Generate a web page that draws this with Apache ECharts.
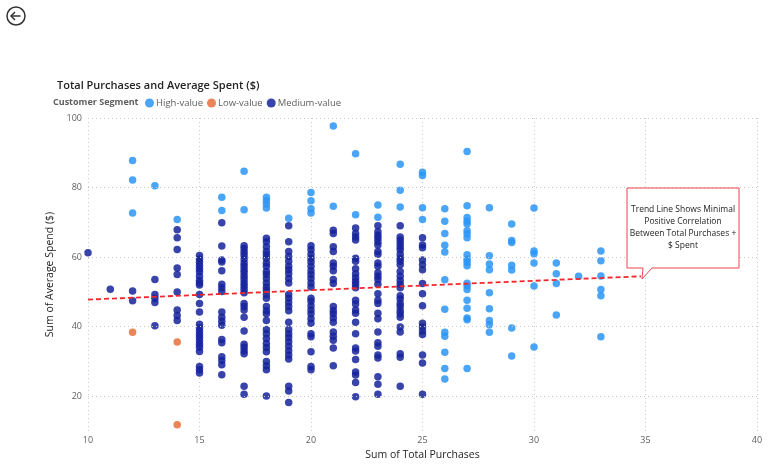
<!DOCTYPE html>
<html>
<head>
<meta charset="utf-8">
<script src="https://cdn.jsdelivr.net/npm/echarts@6/dist/echarts.min.js"></script>
<style>html,body{margin:0;padding:0;background:#fff}#chart{width:768px;height:466px}</style>
</head>
<body>
<div id="chart"></div>
<script>
// values: [total purchases, average spend]
const highValue = [
    [12, 87.8], [12, 82.2], [12, 72.7], [13, 80.5], [14, 70.8],
    [16, 77.2], [16, 73.4], [17, 84.7], [17, 73.6],
    [18, 77.2], [18, 76.2], [18, 75.3], [18, 74.1], [19, 71.2],
    [20, 78.6], [20, 76.2], [20, 73.9], [20, 72.7],
    [21, 97.7], [21, 74.6], [22, 89.7], [22, 72.2], [23, 75.0], [23, 71.5],
    [24, 86.7], [24, 79.2], [24, 74.4], [25, 84.4], [25, 83.5], [25, 74.2], [25, 70.8],
    [26, 73.9], [26, 70.3], [26, 66.8], [26, 63.4], [26, 61.5], [26, 53.5], [26, 45.0], [26, 38.4], [26, 37.3], [26, 32.7], [26, 28.0], [26, 25.0],
    [27, 90.4], [27, 74.8], [27, 71.4], [27, 70.3], [27, 69.5], [27, 67.6], [27, 66.7], [27, 65.6], [27, 60.7], [27, 59.4], [27, 58.5], [27, 57.5], [27, 52.5], [27, 51.7], [27, 50.7], [27, 47.6], [27, 45.3], [27, 42.5], [27, 42.0], [27, 28.0],
    [28, 74.2], [28, 60.4], [28, 58.0], [28, 56.4], [28, 49.8], [28, 45.2], [28, 41.8], [28, 40.6], [28, 38.4],
    [29, 69.5], [29, 64.8], [29, 64.2], [29, 57.7], [29, 56.3], [29, 39.6], [29, 31.6],
    [30, 74.1], [30, 61.8], [30, 61.0], [30, 58.3], [30, 51.7], [30, 34.2],
    [31, 58.3], [31, 55.2], [31, 52.4], [31, 43.4], [32, 54.5],
    [33, 61.8], [33, 59.0], [33, 54.6], [33, 50.7], [33, 48.9], [33, 37.1]
];
const lowValue = [[12, 38.4], [14, 35.6], [14, 11.8]];
const mediumCols = {
    10: [61.3],
    11: [50.8],
    12: [50.3, 47.5],
    13: [53.6, 49.3, 48.2, 47.0, 40.3],
    14: [67.9, 65.6, 62.2, 56.9, 55.0, 50.0, 44.8, 43.2, 41.8],
    15: [60.5, 59.5, 58.6, 57.6, 56.7, 55.8, 54.5, 53.3, 52.6, 52.0, 49.3, 46.7, 44.2, 40.7, 39.7, 38.8, 37.8, 36.9, 35.9, 35.0, 34.1, 32.9, 28.6, 27.6, 26.7],
    16: [69.9, 63.2, 59.2, 58.6, 56.1, 52.2, 51.2, 50.1, 44.2, 42.7, 41.6, 40.4, 36.3, 35.4, 31.4, 30.3, 29.1, 26.2],
    17: [63.3, 62.4, 61.4, 60.5, 59.5, 58.3, 57.4, 56.4, 55.5, 54.5, 53.6, 52.6, 51.7, 50.8, 49.8, 46.7, 45.8, 44.8, 42.7, 38.8, 35.0, 34.1, 33.1, 32.2, 22.9, 20.6],
    18: [65.4, 64.4, 63.0, 61.6, 60.7, 59.7, 58.3, 57.4, 55.9, 55.0, 53.9, 52.6, 51.4, 50.5, 49.3, 48.2, 45.8, 44.6, 43.7, 41.8, 39.2, 38.0, 36.6, 35.2, 34.0, 32.8, 30.0, 28.8, 27.6, 20.1],
    19: [69.0, 64.4, 61.6, 60.2, 58.8, 57.4, 56.4, 55.2, 53.9, 52.6, 49.3, 48.2, 47.0, 45.8, 44.6, 41.3, 39.2, 38.0, 36.9, 35.7, 34.4, 33.1, 31.9, 30.7, 22.9, 21.5, 18.2],
    20: [63.3, 62.1, 60.8, 59.7, 58.6, 57.4, 56.1, 55.0, 53.9, 52.6, 51.4, 48.2, 47.3, 46.0, 44.8, 43.7, 42.3, 41.0, 38.0, 37.1, 32.8, 28.6, 27.6],
    21: [67.7, 66.8, 63.0, 61.6, 58.3, 57.4, 56.1, 53.6, 52.4, 45.8, 44.6, 43.7, 42.5, 41.3, 38.5, 37.3, 36.1, 33.9, 28.8],
    22: [68.4, 66.8, 65.8, 64.9, 59.7, 58.8, 56.7, 55.2, 54.1, 53.1, 52.2, 51.2, 47.6, 46.5, 44.8, 43.9, 41.3, 38.0, 33.9, 33.0, 30.6, 27.0, 26.1, 24.0, 19.9],
    23: [69.0, 67.3, 66.3, 65.4, 64.4, 63.5, 61.6, 60.8, 58.3, 57.4, 55.5, 54.5, 53.6, 52.2, 49.5, 47.6, 46.7, 43.9, 42.3, 38.5, 35.4, 34.4, 31.9, 31.0, 25.6, 23.5, 20.6],
    24: [69.0, 65.8, 64.9, 64.0, 63.0, 62.1, 60.8, 59.7, 58.8, 57.8, 55.9, 54.5, 53.3, 52.2, 51.2, 48.9, 48.0, 46.7, 45.8, 44.6, 43.7, 42.7, 39.9, 38.5, 32.2, 31.2, 22.9],
    25: [65.6, 63.5, 62.7, 59.2, 57.8, 56.4, 52.4, 49.5, 46.0, 41.0, 39.9, 38.8, 37.8, 31.9, 29.6, 20.6]
};
const trendLine = [[10, 47.8], [34.8, 54.5]];
const yGridValues = [20, 40, 60, 80, 100];

const mediumValue = [];
Object.keys(mediumCols).forEach(x => {
    mediumCols[x].forEach(y => mediumValue.push([Number(x), y]));
});

const highColor = '#2b95f6';
const lowColor = '#e8703a';
const mediumColor = '#16239c';

function dotSeries(name, data, color) {
    return {
        name: name,
        type: 'scatter',
        data: data,
        symbolSize: 7.5,
        itemStyle: { color: color, opacity: 0.85 },
        z: 3
    };
}

const chart = echarts.init(document.getElementById('chart'));
chart.setOption({
    animation: false,
    title: {
        text: 'Total Purchases and Average Spent ($)',
        left: 52, top: 75,
        textStyle: { fontFamily: 'Open Sans', fontSize: 11, fontWeight: 600, color: '#252423' }
    },
    legend: {
        left: 140, top: 93,
        icon: 'circle', itemWidth: 9, itemHeight: 9, itemGap: 4,
        textStyle: { fontFamily: 'Open Sans', fontSize: 9.5, color: '#605e5c', padding: [0, 0, 0, -3] },
        data: ['High-value', 'Low-value', 'Medium-value']
    },
    grid: { left: 88, right: 11, top: 118, bottom: 31 },
    xAxis: {
        type: 'value', min: 10, max: 40, interval: 5,
        name: 'Sum of Total Purchases', nameLocation: 'middle', nameGap: 16,
        nameTextStyle: { fontFamily: 'Open Sans', fontSize: 10.5, color: '#252423' },
        axisLine: { show: false }, axisTick: { show: false },
        axisLabel: { fontFamily: 'Open Sans', fontSize: 9, color: '#605e5c', margin: 5 },
        splitLine: { lineStyle: { type: [1, 3], color: '#c8c8c8' } }
    },
    yAxis: {
        type: 'value', min: 10, max: 100, interval: 10,
        name: 'Sum of Average Spend ($)', nameLocation: 'middle', nameGap: 26,
        nameTextStyle: { fontFamily: 'Open Sans', fontSize: 10.5, color: '#252423' },
        axisLine: { show: false }, axisTick: { show: false },
        axisLabel: {
            fontFamily: 'Open Sans', fontSize: 9, color: '#605e5c', margin: 6,
            formatter: v => (v % 20 === 0 ? v : '')
        },
        splitLine: { show: false }
    },
    series: [
        dotSeries('High-value', highValue, highColor),
        dotSeries('Low-value', lowValue, lowColor),
        dotSeries('Medium-value', mediumValue, mediumColor),
        {
            type: 'line',
            data: trendLine,
            symbol: 'none',
            lineStyle: { color: '#f0282d', width: 1.8, type: [5, 3] },
            z: 4,
            markLine: {
                silent: true, symbol: 'none', label: { show: false },
                lineStyle: { type: [1, 3], color: '#c8c8c8', width: 1 },
                data: yGridValues.map(v => ({ yAxis: v }))
            }
        }
    ],
    graphic: [
        { type: 'circle', shape: { cx: 16, cy: 16, r: 9 }, style: { fill: 'none', stroke: '#333', lineWidth: 1.5 } },
        { type: 'polyline', shape: { points: [[20.5, 16], [11, 16]] }, style: { stroke: '#333', lineWidth: 1.5, fill: 'none' } },
        { type: 'polyline', shape: { points: [[15, 12], [11, 16], [15, 20]] }, style: { stroke: '#333', lineWidth: 1.5, fill: 'none' } },
        {
            type: 'text', x: 53, y: 102,
            style: {
                text: 'Customer Segment', fontFamily: 'Open Sans', fontSize: 9, fontWeight: 'bold',
                fill: '#605e5c', verticalAlign: 'middle'
            }
        },
        {
            type: 'polygon',
            shape: { points: [[627, 188], [739, 188], [739, 268], [652, 268], [642, 279], [643, 268], [627, 268]] },
            style: { fill: '#fff', stroke: '#e8474a', lineWidth: 1 },
            z: 10
        },
        {
            type: 'text', x: 683, y: 228, z: 11,
            style: {
                text: 'Trend Line Shows Minimal\nPositive Correlation\nBetween Total Purchases +\n$ Spent',
                fontFamily: 'Open Sans', fontSize: 8.5, lineHeight: 12, fill: '#252423',
                align: 'center', verticalAlign: 'middle'
            }
        }
    ]
});
</script>
</body>
</html>
